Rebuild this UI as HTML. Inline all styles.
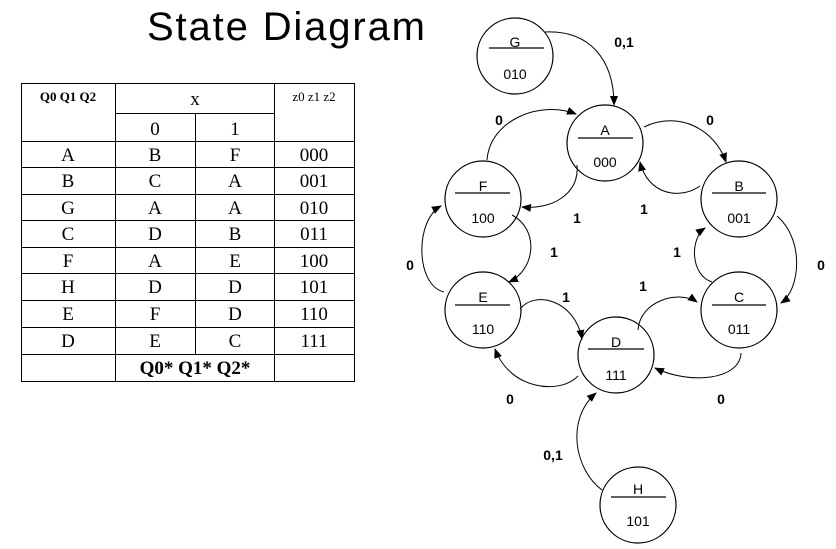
<!DOCTYPE html>
<html><head><meta charset="utf-8"><style>
body{margin:0;background:#fff;width:836px;height:549px;overflow:hidden}
svg{display:block}
</style></head><body>
<svg width="836" height="549" viewBox="0 0 836 549" xmlns="http://www.w3.org/2000/svg">
<defs><marker id="ar" markerWidth="10" markerHeight="8" refX="9" refY="4" orient="auto" markerUnits="userSpaceOnUse"><path d="M0,0 L10,4 L0,8 z" fill="#000"/></marker></defs>
<text x="286" y="40" font-family="Liberation Sans, sans-serif" font-size="40" text-anchor="middle" textLength="278">State Diagram</text>
<g stroke="#000" stroke-width="1" fill="none">
<rect x="21.5" y="83.5" width="333" height="298"/>
<line x1="115.5" y1="83" x2="115.5" y2="381"/>
<line x1="274.5" y1="83" x2="274.5" y2="381"/>
<line x1="115" y1="113.5" x2="274" y2="113.5"/>
<line x1="195.5" y1="113" x2="195.5" y2="354"/>
<line x1="21" y1="141.5" x2="355" y2="141.5"/>
<line x1="21" y1="167.5" x2="355" y2="167.5"/>
<line x1="21" y1="194.5" x2="355" y2="194.5"/>
<line x1="21" y1="220.5" x2="355" y2="220.5"/>
<line x1="21" y1="247.5" x2="355" y2="247.5"/>
<line x1="21" y1="273.5" x2="355" y2="273.5"/>
<line x1="21" y1="300.5" x2="355" y2="300.5"/>
<line x1="21" y1="327.5" x2="355" y2="327.5"/>
<line x1="21" y1="354.5" x2="355" y2="354.5"/>
</g>
<g font-family="Liberation Serif, serif" font-size="19" text-anchor="middle">
<text x="68" y="101" font-size="13" font-weight="bold">Q0 Q1 Q2</text>
<text x="195" y="105">x</text>
<text x="314" y="101" font-size="13">z0 z1 z2</text>
<text x="155" y="135">0</text><text x="235" y="135">1</text>
<text x="68" y="161">A</text><text x="155" y="161">B</text><text x="235" y="161">F</text><text x="314" y="161">000</text>
<text x="68" y="187">B</text><text x="155" y="187">C</text><text x="235" y="187">A</text><text x="314" y="187">001</text>
<text x="68" y="214">G</text><text x="155" y="214">A</text><text x="235" y="214">A</text><text x="314" y="214">010</text>
<text x="68" y="240">C</text><text x="155" y="240">D</text><text x="235" y="240">B</text><text x="314" y="240">011</text>
<text x="68" y="267">F</text><text x="155" y="267">A</text><text x="235" y="267">E</text><text x="314" y="267">100</text>
<text x="68" y="293">H</text><text x="155" y="293">D</text><text x="235" y="293">D</text><text x="314" y="293">101</text>
<text x="68" y="320">E</text><text x="155" y="320">F</text><text x="235" y="320">D</text><text x="314" y="320">110</text>
<text x="68" y="347">D</text><text x="155" y="347">E</text><text x="235" y="347">C</text><text x="314" y="347">111</text>
<text x="195" y="374" font-weight="bold">Q0* Q1* Q2*</text>
</g>
<g stroke="#000" stroke-width="1.2" fill="none">
<circle cx="515" cy="56" r="38"/><line x1="489" y1="48" x2="544" y2="48"/>
<circle cx="605" cy="143" r="38"/><line x1="578" y1="138" x2="633" y2="138"/>
<circle cx="739" cy="199" r="38"/><line x1="712" y1="193" x2="766" y2="193"/>
<circle cx="483" cy="199" r="38"/><line x1="455" y1="193" x2="510" y2="193"/>
<circle cx="483" cy="310" r="38"/><line x1="455" y1="305" x2="510" y2="305"/>
<circle cx="739" cy="310" r="38"/><line x1="712" y1="305" x2="766" y2="305"/>
<circle cx="616" cy="355" r="38"/><line x1="588" y1="349" x2="644" y2="349"/>
<circle cx="638" cy="505" r="38"/><line x1="611" y1="497" x2="666" y2="497"/>
</g>
<g stroke="#000" stroke-width="1" fill="none" marker-end="url(#ar)">
<path d="M545,32 C590,30 614,60 614,105"/>
<path d="M487,160 C490,120 540,100 576,114"/>
<path d="M644,127 C680,110 715,130 726,162"/>
<path d="M700,186 C680,200 648,195 640,162"/>
<path d="M577,165 C580,195 550,210 522,207"/>
<path d="M512,215 C540,230 535,270 509,282"/>
<path d="M444,292 C415,285 415,220 441,206"/>
<path d="M520,309 C535,290 575,300 582,339"/>
<path d="M578,376 C560,395 510,390 495,349"/>
<path d="M638,330 C640,300 680,290 697,302"/>
<path d="M712,282 C690,275 690,238 705,228"/>
<path d="M777,216 C805,240 800,290 781,303"/>
<path d="M741,353 C740,380 690,385 655,368"/>
<path d="M602,490 C575,470 565,420 596,393"/>
</g>
<g font-family="Liberation Sans, sans-serif" font-size="14" text-anchor="middle">
<text x="515" y="47">G</text><text x="515" y="79">010</text>
<text x="605" y="135">A</text><text x="605" y="167">000</text>
<text x="739" y="191">B</text><text x="739" y="223">001</text>
<text x="483" y="191">F</text><text x="483" y="223">100</text>
<text x="483" y="302">E</text><text x="483" y="334">110</text>
<text x="739" y="302">C</text><text x="739" y="334">011</text>
<text x="616" y="347">D</text><text x="616" y="380">111</text>
<text x="638" y="494">H</text><text x="638" y="526">101</text>
</g>
<g font-family="Liberation Sans, sans-serif" font-size="14" font-weight="bold" text-anchor="middle">
<text x="624" y="47">0,1</text>
<text x="499" y="125">0</text><text x="710" y="125">0</text>
<text x="577" y="223">1</text><text x="644" y="214">1</text>
<text x="554" y="257">1</text><text x="677" y="257">1</text>
<text x="410" y="270">0</text><text x="821" y="270">0</text>
<text x="566" y="302">1</text><text x="643" y="291">1</text>
<text x="510" y="404">0</text><text x="721" y="404">0</text>
<text x="553" y="460">0,1</text>
</g>
</svg>
</body></html>
